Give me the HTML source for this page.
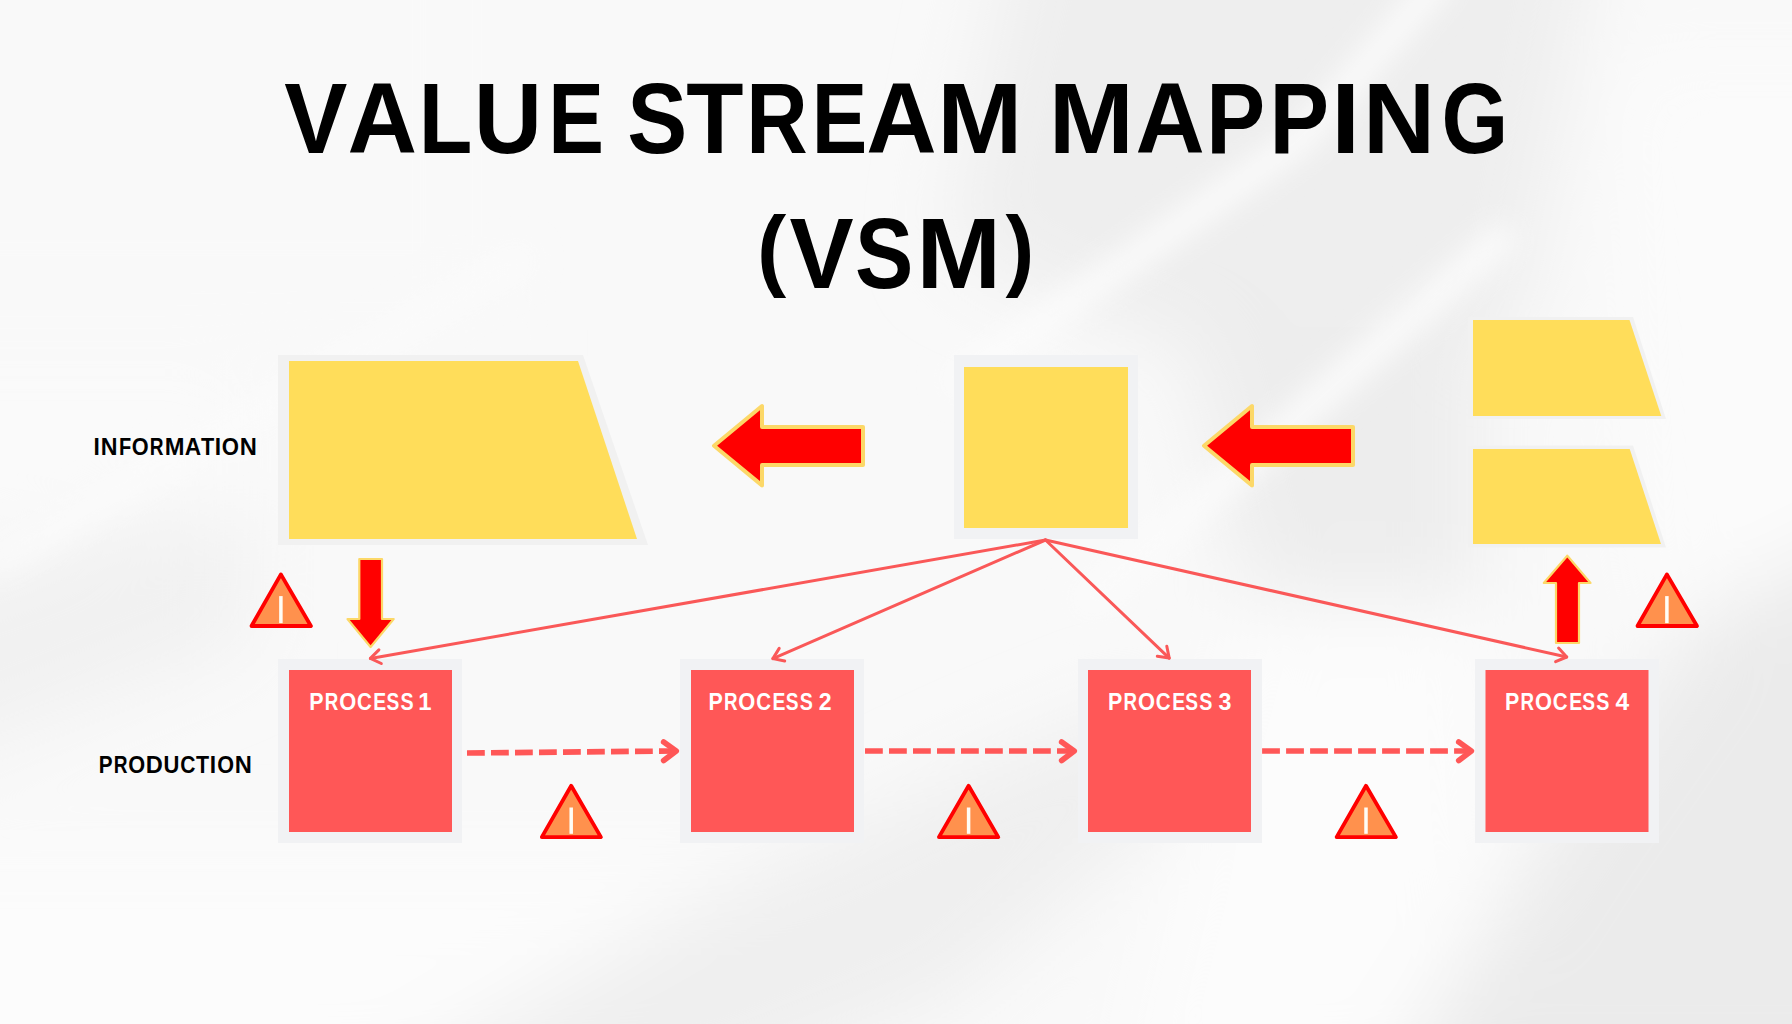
<!DOCTYPE html>
<html>
<head>
<meta charset="utf-8">
<style>
html,body{margin:0;padding:0;width:1792px;height:1024px;overflow:hidden;background:#f3f3f3;}
svg{display:block;position:absolute;left:0;top:0;}
text{font-family:"Liberation Sans",sans-serif;font-weight:bold;}
</style>
</head>
<body>
<svg width="1792" height="1024" viewBox="0 0 1792 1024">
<defs>
<filter id="blur" x="-30%" y="-30%" width="160%" height="160%"><feGaussianBlur stdDeviation="40"/></filter>
<filter id="blur2" x="-30%" y="-30%" width="160%" height="160%"><feGaussianBlur stdDeviation="14"/></filter>
</defs>
<rect x="0" y="0" width="1792" height="1024" fill="#f9f9f9"/>
<g filter="url(#blur)">
<polygon points="1020,-100 1600,-100 1520,340 1150,340 950,250" fill="#eeeeee"/>
<polygon points="1180,300 1480,300 1480,600 1250,620" fill="#ededed"/>
<polygon points="1620,60 1900,60 1900,620 1640,620" fill="#fbfbfb"/>
<polygon points="1240,600 1480,600 1500,1100 1120,1100" fill="#fcfcfc"/>
<polygon points="1900,520 1900,1100 1380,1100 1560,820 1700,620" fill="#ebebeb"/>
<polygon points="-100,860 780,860 700,1100 -100,1100" fill="#fcfcfc"/>
<polygon points="360,1100 700,900 1000,760 1150,700 1190,790 950,1000 700,1100" fill="#efefef"/>
<polygon points="-100,600 250,480 250,640 -100,780" fill="#f1f1f1"/>
<polygon points="-100,-100 500,-100 500,330 -100,330" fill="#f9f9f9"/>
<polygon points="-100,380 260,380 260,520 -100,520" fill="#fafafa"/>
</g>
<g filter="url(#blur2)" fill="none" stroke-linecap="round">
<path d="M960,380 L1300,140 L1440,-20" stroke="#fcfcfc" stroke-width="26"/>
<path d="M1090,600 L1500,240" stroke="#fbfbfb" stroke-width="30"/>
<path d="M0,560 L520,260" stroke="#fbfbfb" stroke-width="26"/>
</g>
<!-- Title -->
<g fill="#000">
<text transform="translate(284.15,153.00) scale(0.4731,0.5022)" font-size="200">V</text>
<text transform="translate(347.49,153.00) scale(0.4813,0.5022)" font-size="200">A</text>
<text transform="translate(418.70,153.00) scale(0.4388,0.5022)" font-size="200">L</text>
<text transform="translate(474.05,153.00) scale(0.4708,0.5022)" font-size="200">U</text>
<text transform="translate(548.37,153.00) scale(0.4177,0.5022)" font-size="200">E</text>
<text transform="translate(627.30,153.00) scale(0.4500,0.5022)" font-size="200">S</text>
<text transform="translate(686.36,153.00) scale(0.4686,0.5022)" font-size="200">T</text>
<text transform="translate(746.27,153.00) scale(0.4252,0.5022)" font-size="200">R</text>
<text transform="translate(811.69,153.00) scale(0.4159,0.5022)" font-size="200">E</text>
<text transform="translate(866.16,153.00) scale(0.4873,0.5022)" font-size="200">A</text>
<text transform="translate(937.36,153.00) scale(0.5107,0.5022)" font-size="200">M</text>
<text transform="translate(1048.86,153.00) scale(0.5107,0.5022)" font-size="200">M</text>
<text transform="translate(1135.40,153.00) scale(0.4791,0.5022)" font-size="200">A</text>
<text transform="translate(1206.26,153.00) scale(0.4412,0.5022)" font-size="200">P</text>
<text transform="translate(1269.40,153.00) scale(0.4465,0.5022)" font-size="200">P</text>
<text transform="translate(1331.18,153.00) scale(0.5172,0.5022)" font-size="200">I</text>
<text transform="translate(1363.01,153.00) scale(0.4992,0.5022)" font-size="200">N</text>
<text transform="translate(1441.57,153.00) scale(0.4289,0.5022)" font-size="200">G</text>
<text transform="translate(789.44,288.00) scale(0.4808,0.5022)" font-size="200">V</text>
<text transform="translate(854.88,288.00) scale(0.4375,0.5022)" font-size="200">S</text>
<text transform="translate(916.41,288.00) scale(0.5071,0.5022)" font-size="200">M</text>
<text transform="translate(713.08,182.03) scale(0.4393,0.4422)" x="100" y="220" font-size="200">(</text>
<text transform="translate(962.35,182.03) scale(0.4321,0.4422)" x="100" y="220" font-size="200">)</text>
</g>

<!-- Labels -->
<g fill="#000">
<text transform="translate(93.42,454.90) scale(0.1138,0.1174)" font-size="200">I</text>
<text transform="translate(100.79,454.90) scale(0.1161,0.1174)" font-size="200">N</text>
<text transform="translate(118.90,454.90) scale(0.1000,0.1174)" font-size="200">F</text>
<text transform="translate(131.73,454.90) scale(0.1086,0.1174)" font-size="200">O</text>
<text transform="translate(149.86,454.90) scale(0.0953,0.1174)" font-size="200">R</text>
<text transform="translate(164.66,454.90) scale(0.1186,0.1174)" font-size="200">M</text>
<text transform="translate(184.63,454.90) scale(0.1134,0.1174)" font-size="200">A</text>
<text transform="translate(200.88,454.90) scale(0.1085,0.1174)" font-size="200">T</text>
<text transform="translate(214.82,454.90) scale(0.1138,0.1174)" font-size="200">I</text>
<text transform="translate(221.81,454.90) scale(0.1108,0.1174)" font-size="200">O</text>
<text transform="translate(239.66,454.90) scale(0.1186,0.1174)" font-size="200">N</text>
<text transform="translate(98.65,772.90) scale(0.1035,0.1152)" font-size="200">P</text>
<text transform="translate(113.66,772.90) scale(0.0953,0.1152)" font-size="200">R</text>
<text transform="translate(128.33,772.90) scale(0.1086,0.1152)" font-size="200">O</text>
<text transform="translate(145.87,772.90) scale(0.1179,0.1152)" font-size="200">D</text>
<text transform="translate(163.38,772.90) scale(0.1100,0.1152)" font-size="200">U</text>
<text transform="translate(180.26,772.90) scale(0.1053,0.1152)" font-size="200">C</text>
<text transform="translate(196.09,772.90) scale(0.1068,0.1152)" font-size="200">T</text>
<text transform="translate(209.82,772.90) scale(0.1138,0.1152)" font-size="200">I</text>
<text transform="translate(217.24,772.90) scale(0.1079,0.1152)" font-size="200">O</text>
<text transform="translate(234.66,772.90) scale(0.1186,0.1152)" font-size="200">N</text>
</g>

<!-- Left trapezoid -->
<polygon points="278,355 583,355 648,545 278,545" fill="#f1f1f1"/>
<polygon points="289,361 578,361 637,539 289,539" fill="#ffdd5a"/>

<!-- Center square -->
<rect x="954" y="355" width="184" height="184" fill="#f1f2f4"/>
<rect x="964" y="367" width="164" height="161" fill="#ffdd5a"/>

<!-- Right trapezoids -->
<polygon points="1468,317 1633,317 1666,419 1468,419" fill="#f1f1f1"/>
<polygon points="1473,320 1629.5,320 1661.3,416 1473,416" fill="#ffdd5a"/>
<polygon points="1468,445.5 1633,445.5 1666,547.5 1468,547.5" fill="#f1f1f1"/>
<polygon points="1473,449 1629.7,449 1661,544 1473,544" fill="#ffdd5a"/>

<!-- Big left arrows -->
<path d="M714,445.7 L762,406 L762,427 L863,427 L863,465 L762,465 L762,485.4 Z" fill="#ff0000" stroke="#fcd868" stroke-width="4" stroke-linejoin="round"/>
<path d="M1204,445.7 L1252,406 L1252,427 L1353,427 L1353,465 L1252,465 L1252,485.4 Z" fill="#ff0000" stroke="#fcd868" stroke-width="4" stroke-linejoin="round"/>

<!-- Down arrow -->
<path d="M359.3,559 L382,559 L382,619 L393.7,619 L370.6,647 L347.5,619 L359.3,619 Z" fill="#ff0000" stroke="#fcd868" stroke-width="2.2" stroke-linejoin="round"/>
<!-- Up arrow -->
<path d="M1556,643 L1579,643 L1579,583 L1590.5,583 L1567.3,555.7 L1543.8,583 L1556,583 Z" fill="#ff0000" stroke="#fcd868" stroke-width="2.2" stroke-linejoin="round"/>

<!-- Process boxes -->
<g fill="#f1f2f4">
<rect x="278" y="659" width="184" height="184"/>
<rect x="680" y="659" width="184" height="184"/>
<rect x="1078" y="659" width="184" height="184"/>
<rect x="1475" y="659" width="184" height="184"/>
</g>
<g fill="#ff5757">
<rect x="289" y="670" width="163" height="162"/>
<rect x="691" y="670" width="163" height="162"/>
<rect x="1088" y="670" width="163" height="162"/>
<rect x="1485.5" y="670" width="163" height="162"/>
</g>
<g fill="#fff">
<text transform="translate(309.21,709.90) scale(0.1070,0.1152)" font-size="200">P</text>
<text transform="translate(324.68,709.90) scale(0.0937,0.1152)" font-size="200">R</text>
<text transform="translate(339.13,709.90) scale(0.1094,0.1152)" font-size="200">O</text>
<text transform="translate(356.98,709.90) scale(0.1027,0.1152)" font-size="200">C</text>
<text transform="translate(373.35,709.90) scale(0.0965,0.1152)" font-size="200">E</text>
<text transform="translate(386.53,709.90) scale(0.0958,0.1152)" font-size="200">S</text>
<text transform="translate(400.51,709.90) scale(0.0983,0.1152)" font-size="200">S</text>
<text transform="translate(418.35,709.90) scale(0.1194,0.1152)" font-size="200">1</text>
<text transform="translate(708.41,709.90) scale(0.1070,0.1152)" font-size="200">P</text>
<text transform="translate(723.88,709.90) scale(0.0937,0.1152)" font-size="200">R</text>
<text transform="translate(738.33,709.90) scale(0.1094,0.1152)" font-size="200">O</text>
<text transform="translate(756.18,709.90) scale(0.1027,0.1152)" font-size="200">C</text>
<text transform="translate(772.55,709.90) scale(0.0965,0.1152)" font-size="200">E</text>
<text transform="translate(785.72,709.90) scale(0.0958,0.1152)" font-size="200">S</text>
<text transform="translate(799.71,709.90) scale(0.0983,0.1152)" font-size="200">S</text>
<text transform="translate(818.69,709.90) scale(0.1156,0.1152)" font-size="200">2</text>
<text transform="translate(1108.01,709.90) scale(0.1070,0.1152)" font-size="200">P</text>
<text transform="translate(1123.48,709.90) scale(0.0937,0.1152)" font-size="200">R</text>
<text transform="translate(1137.93,709.90) scale(0.1094,0.1152)" font-size="200">O</text>
<text transform="translate(1155.78,709.90) scale(0.1027,0.1152)" font-size="200">C</text>
<text transform="translate(1172.15,709.90) scale(0.0965,0.1152)" font-size="200">E</text>
<text transform="translate(1185.33,709.90) scale(0.0958,0.1152)" font-size="200">S</text>
<text transform="translate(1199.31,709.90) scale(0.0983,0.1152)" font-size="200">S</text>
<text transform="translate(1218.52,709.90) scale(0.1162,0.1152)" font-size="200">3</text>
<text transform="translate(1505.01,709.90) scale(0.1070,0.1152)" font-size="200">P</text>
<text transform="translate(1520.48,709.90) scale(0.0937,0.1152)" font-size="200">R</text>
<text transform="translate(1534.93,709.90) scale(0.1094,0.1152)" font-size="200">O</text>
<text transform="translate(1552.78,709.90) scale(0.1027,0.1152)" font-size="200">C</text>
<text transform="translate(1569.15,709.90) scale(0.0965,0.1152)" font-size="200">E</text>
<text transform="translate(1582.33,709.90) scale(0.0958,0.1152)" font-size="200">S</text>
<text transform="translate(1596.31,709.90) scale(0.0983,0.1152)" font-size="200">S</text>
<text transform="translate(1615.38,709.90) scale(0.1229,0.1152)" font-size="200">4</text>
</g>

<!-- Dashed arrows -->
<g stroke="#ff5757" stroke-width="5.7" fill="none" stroke-linecap="round" stroke-linejoin="round">
<path stroke-linecap="butt" d="M467.0,753.00 L484.8,752.83 M491.0,752.77 L508.8,752.61 M515.0,752.55 L532.8,752.38 M539.0,752.32 L556.8,752.15 M563.0,752.09 L580.8,751.93 M587.0,751.87 L604.8,751.70 M611.0,751.64 L628.8,751.47 M635.0,751.42 L652.8,751.25 M659.0,751.19 L676.2,751.00"/>
<path d="M663.7,742.0 L676.2,751.00 L663.7,760.5"/>
<path stroke-linecap="butt" d="M865.0,751.00 L882.8,751.00 M889.0,751.00 L906.8,751.00 M913.0,751.00 L930.8,751.00 M937.0,751.00 L954.8,751.00 M961.0,751.00 L978.8,751.00 M985.0,751.00 L1002.8,751.00 M1009.0,751.00 L1026.8,751.00 M1033.0,751.00 L1050.8,751.00 M1057.0,751.00 L1074.2,751.00"/>
<path d="M1061.7,742.0 L1074.2,751.00 L1061.7,760.5"/>
<path stroke-linecap="butt" d="M1262.1,751.00 L1279.9,751.00 M1286.1,751.00 L1303.9,751.00 M1310.1,751.00 L1327.9,751.00 M1334.1,751.00 L1351.9,751.00 M1358.1,751.00 L1375.9,751.00 M1382.1,751.00 L1399.9,751.00 M1406.1,751.00 L1423.9,751.00 M1430.1,751.00 L1447.9,751.00 M1454.1,751.00 L1471.3,751.00"/>
<path d="M1458.8,742.0 L1471.3,751.00 L1458.8,760.5"/>
</g>

<!-- Connector lines -->
<g stroke="#fa5858" stroke-width="3" fill="none" stroke-linecap="round" stroke-linejoin="round">
<path d="M1045.5,540 L370.4,658.4"/>
<path d="M1045.5,540 L772.9,658.6"/>
<path d="M1045.5,540 L1169.2,658.1"/>
<path d="M1045.5,540 L1566.7,657"/>
<path d="M381.3,663.5 L370.4,658.4 L378.9,649.9"/>
<path d="M784.7,661.0 L772.9,658.6 L779.2,648.4"/>
<path d="M1166.8,646.3 L1169.2,658.1 L1157.3,656.3"/>
<path d="M1558.6,648.1 L1566.7,657.0 L1555.6,661.6"/>
</g>

<!-- Warning triangles -->
<g stroke="#ff0000" stroke-width="3.8" stroke-linejoin="round" fill="#ff914d">
<polygon points="280.9,574.4 310.9,626.0 251.5,626.0"/>
<polygon points="571.2,785.8 600.9,837.1 541.8,837.1"/>
<polygon points="968.6,785.8 998.3,837.1 938.9,837.1"/>
<polygon points="1366.0,785.8 1395.9,837.1 1336.6,837.1"/>
<polygon points="1666.9,574.4 1697.0,626.0 1637.5,626.0"/>
</g>
<g fill="#fffdf6">
<rect x="279.15" y="596.1" width="3.5" height="27.0"/>
<rect x="569.45" y="807.5" width="3.5" height="26.3"/>
<rect x="966.85" y="807.5" width="3.5" height="26.3"/>
<rect x="1364.25" y="807.5" width="3.5" height="26.3"/>
<rect x="1665.15" y="596.1" width="3.5" height="27.0"/>
</g>
</svg>
</body>
</html>
